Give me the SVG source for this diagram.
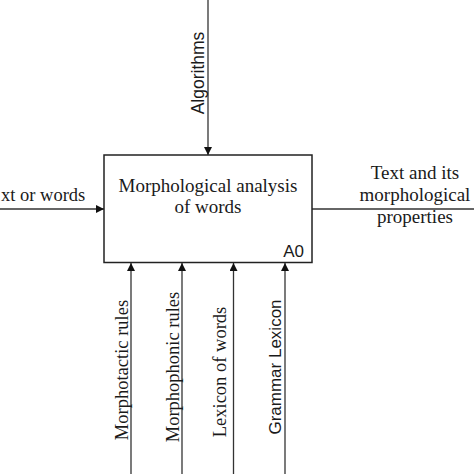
<svg xmlns="http://www.w3.org/2000/svg" width="474" height="474" viewBox="0 0 474 474">
<style>
.serif{font-family:"Liberation Serif","Times New Roman",serif;font-size:19px;fill:#1a1a1a}
.sans{font-family:"Liberation Sans",Arial,sans-serif;font-size:17px;fill:#1a1a1a}
.ln{stroke:#333;stroke-width:1.3;fill:none}
</style>
<defs>
<marker id="ah" viewBox="0 0 10 10" refX="10" refY="5" markerWidth="8" markerHeight="8" markerUnits="userSpaceOnUse" orient="auto">
<path d="M0,0 L10,5 L0,10 Z" fill="#111"/>
</marker>
</defs>
<rect width="474" height="474" fill="#fff"/>
<g id="connectors">
<line class="ln" x1="208" y1="0" x2="208" y2="155" marker-end="url(#ah)"/>
<line class="ln" x1="0" y1="209" x2="104" y2="209" marker-end="url(#ah)"/>
<line class="ln" x1="312" y1="209" x2="474" y2="209"/>
<line class="ln" x1="131" y1="474" x2="131" y2="263" marker-end="url(#ah)"/>
<line class="ln" x1="182" y1="474" x2="182" y2="263" marker-end="url(#ah)"/>
<line class="ln" x1="233.5" y1="474" x2="233.5" y2="263" marker-end="url(#ah)"/>
<line class="ln" x1="285" y1="474" x2="285" y2="263" marker-end="url(#ah)" stroke="#111"/>
</g>
<g id="node-A0">
<rect x="104" y="155" width="208" height="107.5" fill="#fff" stroke="#222" stroke-width="1.5"/>
<text class="serif" x="208" y="192" text-anchor="middle">Morphological analysis</text>
<text class="serif" x="208" y="213" text-anchor="middle">of words</text>
<text class="sans" x="304" y="257" text-anchor="end">A0</text>
</g>
<g id="labels">
<text class="sans" transform="translate(204,73) rotate(-90)" text-anchor="middle" style="font-size:17.5px">Algorithms</text>
<text class="serif" x="1" y="201" style="font-size:18.5px">xt or words</text>
<text class="serif" x="415" y="179" text-anchor="middle">Text and its</text>
<text class="serif" x="415" y="201" text-anchor="middle">morphological</text>
<text class="serif" x="415" y="223" text-anchor="middle">properties</text>
<text class="serif" transform="translate(127.5,370) rotate(-90)" text-anchor="middle" style="font-size:18.5px">Morphotactic rules</text>
<text class="serif" transform="translate(178.5,367) rotate(-90)" text-anchor="middle" style="font-size:18.5px">Morphophonic rules</text>
<text class="serif" transform="translate(226,372) rotate(-90)" text-anchor="middle" style="font-size:18.5px">Lexicon of words</text>
<text class="sans" transform="translate(281,367) rotate(-90)" text-anchor="middle">Grammar Lexicon</text>
</g>
</svg>
